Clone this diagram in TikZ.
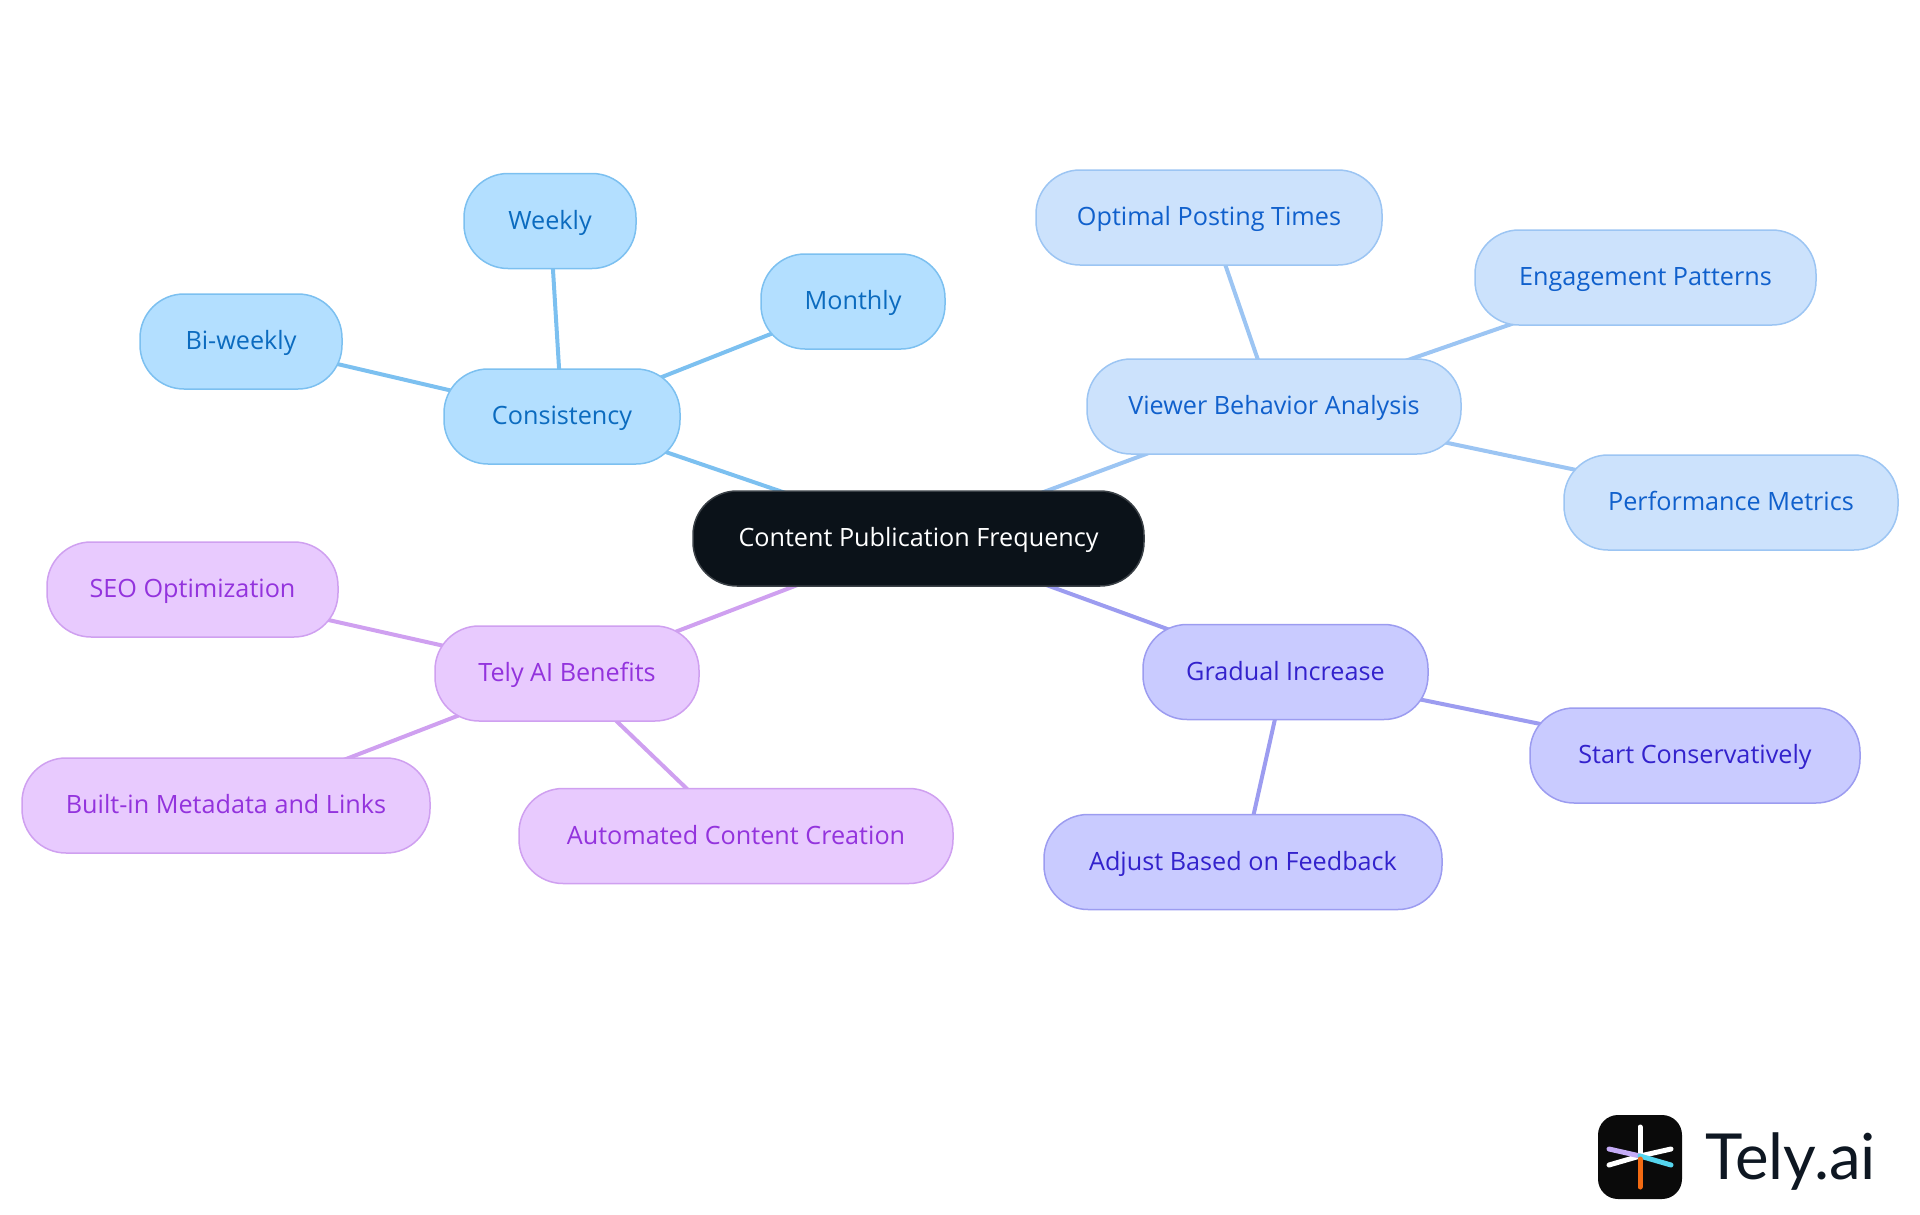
\documentclass[tikz,border=0pt]{standalone}
\usepackage{fontspec}
\setmainfont{Open Sans}
\newfontfamily\logofont{Lato}
\usetikzlibrary{backgrounds}
\definecolor{rootfill}{HTML}{0B1219}
\definecolor{rootline}{HTML}{3A4046}
\definecolor{afill}{HTML}{B3DFFF}\definecolor{aline}{HTML}{7CC0F0}\definecolor{atext}{HTML}{0B6BBF}
\definecolor{bfill}{HTML}{CCE2FC}\definecolor{bline}{HTML}{9CC5F3}\definecolor{btext}{HTML}{1060CC}
\definecolor{cfill}{HTML}{C9CBFF}\definecolor{cline}{HTML}{9C9CF0}\definecolor{ctext}{HTML}{3322CC}
\definecolor{dfill}{HTML}{E8CAFE}\definecolor{dline}{HTML}{CFA0F0}\definecolor{dtext}{HTML}{9333DD}
\definecolor{logoblack}{HTML}{0A0A0A}\definecolor{logotext}{HTML}{0E1722}
\definecolor{logopurple}{HTML}{C4ABF5}\definecolor{logocyan}{HTML}{55D5EE}\definecolor{logoorange}{HTML}{F26A12}
\tikzset{
 x=1pt,y=-1pt,
 box/.style={rectangle,rounded corners=44pt,line width=1.5pt,inner sep=0pt,minimum height=95pt,text height=20pt,text depth=4pt,font=\fontsize{25.2}{28}\selectfont},
 rootbox/.style={box,fill=rootfill,draw=rootline,text=white},
 abox/.style={box,fill=afill,draw=aline,text=atext},
 bbox/.style={box,fill=bfill,draw=bline,text=btext},
 cbox/.style={box,fill=cfill,draw=cline,text=ctext},
 dbox/.style={box,fill=dfill,draw=dline,text=dtext},
 link/.style={line width=4pt},
 spoke/.style={line width=5pt,line cap=round},
}
\newcommand{\place}[7]{\node[#1,minimum width=#5pt-#4pt] (#2) at ({(#4+#5)/2},{(#6+#7)/2}) {#3};}
\begin{document}
\begin{tikzpicture}
\useasboundingbox (0,0) rectangle (1920,1215);
\place{rootbox}{root}{Content Publication Frequency}{693}{1144}{491}{586}
\place{abox}{cons}{Consistency}{444}{680}{369}{464}
\place{abox}{week}{Weekly}{464}{636}{174}{268}
\place{abox}{month}{Monthly}{761}{945}{254}{349}
\place{abox}{biw}{Bi-weekly}{140}{342}{294}{389}
\place{bbox}{view}{Viewer Behavior Analysis}{1087}{1461}{359}{454}
\place{bbox}{opt}{Optimal Posting Times}{1036}{1382}{170}{265}
\place{bbox}{eng}{Engagement Patterns}{1475}{1816}{230}{325}
\place{bbox}{perf}{Performance Metrics}{1564}{1898}{455}{550}
\place{cbox}{grad}{Gradual Increase}{1143}{1428}{625}{719}
\place{cbox}{start}{Start Conservatively}{1530}{1860}{708}{803}
\place{cbox}{adj}{Adjust Based on Feedback}{1044}{1442}{815}{909}
\place{dbox}{tely}{Tely AI Benefits}{435}{699}{626}{721}
\place{dbox}{seo}{SEO Optimization}{47}{338}{542}{637}
\place{dbox}{meta}{Built-in Metadata and Links}{22}{430}{758}{853}
\place{dbox}{auto}{Automated Content Creation}{519}{953}{789}{883}
\begin{scope}[on background layer]
\draw[link,aline] (root.center)--(cons.center);
\draw[link,aline] (cons.center)--(week.center);
\draw[link,aline] (cons.center)--(month.center);
\draw[link,aline] (cons.center)--(biw.center);
\draw[link,bline] (root.center)--(view.center);
\draw[link,bline] (view.center)--(opt.center);
\draw[link,bline] (view.center)--(eng.center);
\draw[link,bline] (view.center)--(perf.center);
\draw[link,cline] (root.center)--(grad.center);
\draw[link,cline] (grad.center)--(start.center);
\draw[link,cline] (grad.center)--(adj.center);
\draw[link,dline] (root.center)--(tely.center);
\draw[link,dline] (tely.center)--(seo.center);
\draw[link,dline] (tely.center)--(meta.center);
\draw[link,dline] (tely.center)--(auto.center);
\end{scope}
% logo
\fill[logoblack,rounded corners=20pt] (1598,1115) rectangle (1682,1199);
\coordinate (hub) at (1640,1156);
\draw[spoke,white] (hub)--(1640,1127);
\draw[spoke,white] (hub)--(1671,1149);
\draw[spoke,white] (hub)--(1609,1165);
\draw[spoke,logopurple] (hub)--(1609,1149);
\draw[spoke,logocyan] (hub)--(1671,1165);
\draw[spoke,logoorange] (1640,1159)--(1640,1187);
\node[inner sep=0pt,anchor=base west,text=logotext,font=\logofont\fontsize{63.5}{70}\selectfont] (logo) at (1705,1179) {Tely.ai};
\end{tikzpicture}
\end{document}
